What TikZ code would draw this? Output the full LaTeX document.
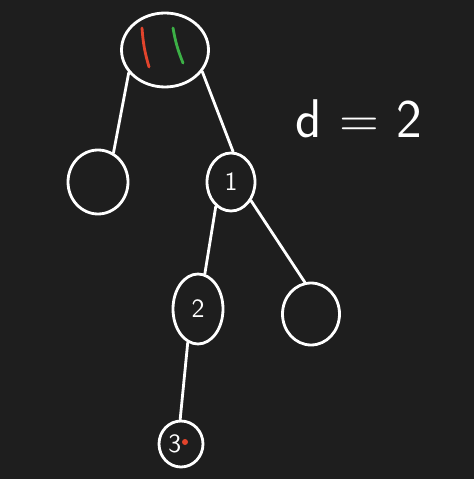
\documentclass[tikz,border=0pt]{standalone}
\usepackage{amsmath}
\usetikzlibrary{shapes.geometric}
\definecolor{board}{RGB}{30,30,30}
\definecolor{chalkred}{RGB}{226,68,44}
\definecolor{chalkgreen}{RGB}{60,176,70}
\tikzset{
every picture/.style={line width=1.6pt},
treenode/.style={ellipse, draw=white, inner sep=0pt, text=white, font=\sffamily\fontsize{15}{18}\selectfont}
}

\begin{document}
\begin{tikzpicture}[x=0.02cm, y=-0.02cm, white, line cap=round]
      \fill[board] (0,0) rectangle (474,479);
      \useasboundingbox (0,0) rectangle (474,479);
      \node[treenode, minimum width=1.74cm, minimum height=1.48cm] (root) at (165,50) {};
      \node[treenode, minimum width=1.2cm, minimum height=1.28cm] (left) at (98,182) {};
      \node[treenode, minimum width=0.96cm, minimum height=1.16cm] (one) at (231,182) {1};
      \node[treenode, minimum width=1.0cm, minimum height=1.4cm] (two) at (198,309) {2};
      \node[treenode, minimum width=1.14cm, minimum height=1.24cm] (right) at (311,314) {};
      \node[treenode, minimum width=0.88cm, minimum height=0.92cm] (three) at (181,444) {3\kern7pt};
      \node[text=white, font=\sffamily\fontsize{31}{38}\selectfont] (dlabel) at (359,119) {d\hspace{10pt}=\hspace{10pt}2};
      \fill[chalkred] (185,442) circle (0.06cm);
      \draw[chalkred] (142,28) to[bend right=6] (149,67);
      \draw[chalkgreen] (173,28) to[bend right=6] (183,63);
      \draw (root.212) -- (left.62);
      \draw (root.330) -- (one.86);
      \draw (one.238) -- (two.79);
      \draw (one.317) -- (right.101);
      \draw (two.253) -- (three.92);
    \end{tikzpicture}
\end{document}
